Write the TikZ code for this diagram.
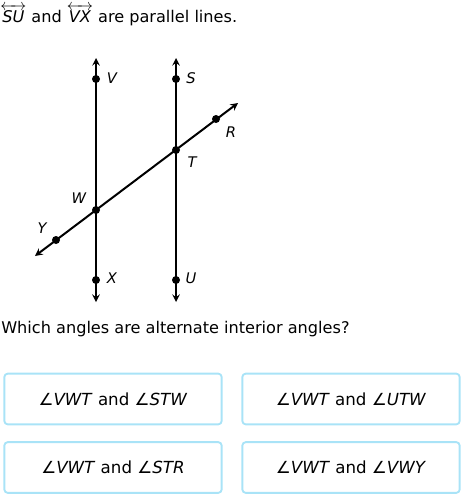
\documentclass[tikz,border=0pt]{standalone}
\usepackage{amsmath}
\usepackage{fontspec}
\setmainfont{DejaVu Sans}
\usetikzlibrary{arrows}
\definecolor{boxblue}{HTML}{A9E3F7}

\begin{document}
\begin{tikzpicture}[x=0.75pt,y=-0.75pt]
  \useasboundingbox (0,0) rectangle (464,496);
  % def punti
  \coordinate (V) at (96,79);
  \coordinate (S) at (176,79);
  \coordinate (W) at (96,210);
  \coordinate (T) at (176,150);
  \coordinate (X) at (96,280);
  \coordinate (U) at (176,280);
  \coordinate (R) at (216,119);
  \coordinate (Y) at (56,240);
  % estremi
  \coordinate (Vtop) at (96,58);
  \coordinate (Xbot) at (96,302);
  \coordinate (Stop) at (176,58);
  \coordinate (Ubot) at (176,302);
  \coordinate (Rend) at (238,103);
  \coordinate (Yend) at (35,256);

  %stile
  \tikzset{arc/.style={<->, black, line width=1.5pt, >=stealth},
    pallino/.style={circle, fill=black, inner sep=0pt, minimum size=6pt},
    etich/.style={font=\fontsize{11}{13}\selectfont\itshape},
    testo/.style={font=\fontsize{12.1}{15}\selectfont, inner sep=0pt},
    scelta/.style={draw=boxblue, line width=1.4pt, rounded corners=2.5pt,
      minimum width=163pt, minimum height=38pt,
      font=\fontsize{12.5}{15}\selectfont}}

  % testo
  \node[testo, anchor=base west] (titolo) at (0,22)
    {$\overleftrightarrow{\mbox{\itshape\kern1.5pt SU\kern1.5pt}}$ and
     $\overleftrightarrow{\mbox{\itshape\kern1.5pt VX\kern1.5pt}}$ are parallel lines.};
  \node[testo, anchor=base west] (domanda) at (1,333)
    {Which angles are alternate interior angles?};

  %rette
  \draw[arc] (Vtop) -- (Xbot);
  \draw[arc] (Stop) -- (Ubot);
  \draw[arc] (Yend) -- (Rend);

  % pallini
  \foreach \p in {V,S,W,T,X,U,R,Y}
    \node[pallino] (n\p) at (\p) {};

  %etichette
  \node[etich] at (112,78) {V};
  \node[etich] at (191,78) {S};
  \node[etich] at (231,132) {R};
  \node[etich] at (192,162) {T};
  \node[etich] at (79,198) {W};
  \node[etich] at (42,228) {Y};
  \node[etich] at (112,278) {X};
  \node[etich] at (191,278) {U};

  % risposte
  \node[scelta] (a1) at (113,399) {∠\textit{VWT} and ∠\textit{STW}};
  \node[scelta] (a2) at (351,399) {∠\textit{VWT} and ∠\textit{UTW}};
  \node[scelta] (a3) at (113,467.5) {∠\textit{VWT} and ∠\textit{STR}};
  \node[scelta] (a4) at (351,467.5) {∠\textit{VWT} and ∠\textit{VWY}};

\end{tikzpicture}
\end{document}
